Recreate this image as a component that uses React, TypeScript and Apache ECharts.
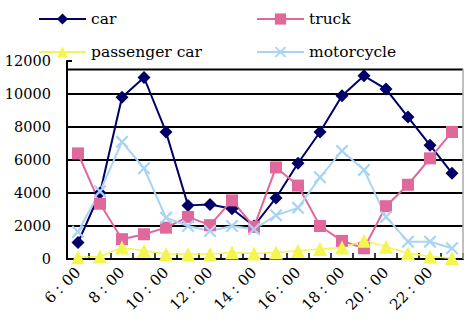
import React, { useEffect, useRef } from "react";
import * as echarts from "echarts";

const hours = ["6：00","7：00","8：00","9：00","10：00","11：00","12：00","13：00","14：00","15：00","16：00","17：00","18：00","19：00","20：00","21：00","22：00","23：00"];
const car = [1000, 4000, 9800, 11000, 7700, 3250, 3300, 3050, 2000, 3700, 5800, 7700, 9900, 11100, 10300, 8600, 6900, 5200];
const truck = [6400, 3350, 1200, 1500, 1900, 2550, 2050, 3550, 1950, 5550, 4450, 2000, 1100, 650, 3200, 4500, 6100, 7700];
const passengerCar = [100, 150, 700, 500, 300, 300, 300, 400, 330, 400, 500, 600, 700, 1100, 750, 350, 150, 50];
const motorcycle = [1650, 4100, 7100, 5500, 2500, 2000, 1700, 2000, 1800, 2650, 3100, 4950, 6550, 5400, 2550, 1050, 1050, 650];
const yTicks = { min: 0, max: 12000, interval: 2000 };

const FONT = "DejaVu Serif";
const xSym = "path://M0,1.2L1.2,0L5,3.8L8.8,0L10,1.2L6.2,5L10,8.8L8.8,10L5,6.2L1.2,10L0,8.8L3.8,5Z";

export default function App() {
  const ref = useRef<HTMLDivElement>(null);
  useEffect(() => {
    const chart = echarts.init(ref.current!, null, { renderer: "svg" });
    const legendBase = {
      itemWidth: 47,
      itemHeight: 14,
      itemGap: 5,
      textStyle: { fontFamily: FONT, fontSize: 15.5, color: "#000" },
    };
    chart.setOption({
      animation: false,
      backgroundColor: "#fff",
      textStyle: { fontFamily: FONT },
      legend: [
        { ...legendBase, data: ["car"], left: 33, top: 6 },
        { ...legendBase, data: ["truck"], left: 251, top: 6 },
        { ...legendBase, data: ["passenger car"], left: 33, top: 39 },
        { ...legendBase, data: ["motorcycle"], left: 251, top: 39 },
      ],
      grid: { left: 67, right: 11, top: 61, bottom: 74, containLabel: false },
      xAxis: {
        type: "category",
        data: hours,
        boundaryGap: true,
        axisLine: { lineStyle: { color: "#000", width: 2 } },
        axisTick: { show: true, inside: true, length: 6, interval: 0, lineStyle: { color: "#000", width: 1.5 } },
        axisLabel: { interval: 1, rotate: 45, margin: 11, fontFamily: FONT, fontSize: 15, color: "#000" },
      },
      yAxis: {
        type: "value",
        min: yTicks.min,
        max: yTicks.max,
        interval: yTicks.interval,
        axisLine: { show: true, lineStyle: { color: "#000", width: 2 } },
        axisTick: { show: true, inside: true, length: 5, lineStyle: { color: "#000", width: 2 } },
        axisLabel: { margin: 16, fontFamily: FONT, fontSize: 14.5, color: "#000", formatter: (v: number) => String(v) },
        splitLine: { show: true, showMaxLine: false, lineStyle: { color: "#000", width: 2 } },
      },
      graphic: [
        { type: "line", shape: { x1: 67, y1: 69.5, x2: 463, y2: 69.5 }, style: { stroke: "#000", lineWidth: 2 }, z: 1 },
        { type: "line", shape: { x1: 463, y1: 69, x2: 463, y2: 259 }, style: { stroke: "#aaaaaa", lineWidth: 1.5 }, z: 1 },
      ],
      series: [
        {
          name: "car", type: "line", data: car,
          symbol: "diamond", symbolSize: 13,
          lineStyle: { color: "#000066", width: 2 },
          itemStyle: { color: "#000066" },
        },
        {
          name: "truck", type: "line", data: truck,
          symbol: "rect", symbolSize: 12,
          lineStyle: { color: "#e0689b", width: 2 },
          itemStyle: { color: "#e0689b" },
        },
        {
          name: "passenger car", type: "line", data: passengerCar,
          symbol: "triangle", symbolSize: 14,
          lineStyle: { color: "#f5f550", width: 1.5 },
          itemStyle: { color: "#f5f550" },
        },
        {
          name: "motorcycle", type: "line", data: motorcycle,
          symbol: xSym, symbolSize: 13,
          lineStyle: { color: "#a9d4f5", width: 2 },
          itemStyle: { color: "#a9d4f5" },
        },
      ],
    });
    return () => chart.dispose();
  }, []);
  return <div ref={ref} style={{ position: "fixed", left: 0, top: 0, width: 474, height: 333 }} />;
}
